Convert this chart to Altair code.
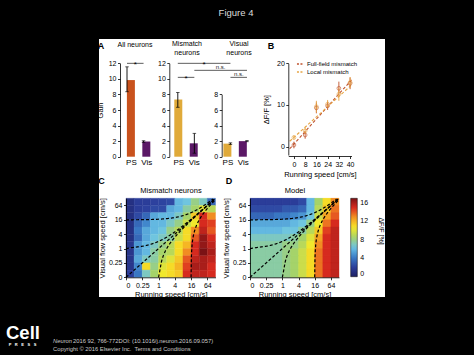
import json
import numpy as np
import pandas as pd
import altair as alt

W, H = 474, 355
FONT = "Liberation Sans"

# ======================= DATA =======================
# Panel A: gain of PS / Vis responses
a_groups = ["All neurons", "Mismatch neurons", "Visual neurons"]
a_conditions = ["PS", "Vis"]
a_gain_ps = [9.85, 7.35, 1.68]
a_gain_vis = [1.95, 1.72, 2.00]
a_lo_ps = [8.35, 6.35, 1.58]
a_hi_ps = [11.55, 8.25, 1.78]
a_lo_vis = [1.85, 0.45, 1.93]
a_hi_vis = [2.05, 3.00, 2.07]
a_ymax = [12, 12, 8]

# significance brackets (group index, condition index)
sig_from_group = [0, 1, 1, 1, 2]
sig_from_cond = [0, 0, 1, 0, 0]
sig_to_group = [0, 2, 2, 1, 2]
sig_to_cond = [1, 0, 1, 1, 1]
sig_level = [12.0, 12.0, 11.1, 10.2, 10.2]
sig_label = ["*", "*", "n.s.", "*", "n.s."]

# Panel B: dF/F vs running speed
b_series = ["Full-field mismatch", "Local mismatch"]
b_speed = [0, 8, 16, 24, 32, 40]
b_full = [0.4, 2.8, 9.3, 9.8, 14.0, 15.2]
b_full_err = [0.8, 0.9, 1.3, 1.0, 1.6, 1.4]
b_local = [2.2, 3.8, 9.6, 10.2, 12.6, 15.4]
b_local_err = [0.5, 0.8, 1.4, 1.0, 1.6, 1.3]
b_fit_x = [-3, 41]
b_fit_full = [-0.5, 16.0]
b_fit_local = [1.3, 14.8]

# Panels C / D: heatmaps (rows top -> bottom, columns left -> right)
hm_tick_labels = ["0", "0.25", "1", "4", "16", "64"]
flow_offsets = [16, 1, 0, -1, -16]   # visual flow = running speed + offset
c_grid = [
    [1.2, 2.0, 2.0, 2.2, 2.3, 2.5, 6.0, 6.5, 8.0, 7.0, 3.5],
    [1.2, 2.0, 2.2, 2.5, 2.5, 5.5, 6.0, 7.5, 8.5, 10.0, 9.0],
    [1.2, 2.5, 3.5, 5.5, 6.0, 6.0, 7.0, 8.5, 11.5, 15.0, 13.0],
    [1.2, 3.5, 4.5, 6.0, 6.0, 7.0, 8.0, 9.5, 10.5, 15.0, 14.5],
    [1.2, 4.0, 5.5, 6.0, 6.5, 8.0, 9.0, 11.0, 13.0, 15.5, 14.0],
    [1.2, 3.5, 5.5, 6.5, 7.0, 7.5, 9.5, 11.0, 14.0, 16.5, 15.0],
    [1.5, 5.0, 6.0, 7.0, 8.0, 9.0, 11.0, 12.0, 15.0, 16.5, 15.5],
    [1.5, 5.0, 6.0, 7.5, 8.5, 9.0, 11.0, 13.0, 15.0, 17.0, 16.0],
    [1.5, 5.5, 7.0, 7.5, 9.0, 10.0, 11.5, 14.0, 15.5, 16.0, 15.5],
    [1.5, 4.5, 11.0, 8.0, 10.0, 11.0, 12.0, 14.5, 16.0, 16.0, 15.0],
    [2.0, 4.0, 7.0, 8.5, 10.5, 11.0, 11.5, 15.0, 15.5, 15.5, 15.0],
]
d_grid = [
    [2.0, 2.0, 2.0, 2.0, 2.0, 2.0, 2.5, 6.0, 8.5, 11.0, 13.0],
    [2.5, 2.5, 2.5, 2.5, 3.0, 3.0, 3.5, 6.0, 9.0, 11.5, 13.5],
    [3.5, 3.5, 3.5, 4.0, 4.0, 4.5, 5.0, 6.5, 9.5, 12.5, 14.0],
    [5.5, 5.5, 5.5, 5.5, 5.5, 6.0, 6.5, 8.0, 10.5, 13.5, 15.0],
    [6.0, 6.0, 6.0, 6.0, 6.5, 6.5, 7.5, 9.0, 11.5, 14.5, 15.5],
    [7.0, 7.0, 7.0, 7.0, 7.0, 7.5, 8.5, 10.0, 12.5, 15.0, 15.5],
    [7.5, 7.5, 7.5, 7.5, 8.0, 8.0, 9.0, 10.5, 13.0, 15.0, 15.5],
    [7.5, 7.5, 7.5, 7.5, 8.0, 8.5, 9.5, 11.0, 13.5, 15.0, 15.5],
    [7.5, 7.5, 7.5, 7.5, 8.0, 8.5, 9.5, 11.0, 13.5, 15.0, 15.5],
    [7.5, 7.5, 7.5, 7.5, 8.0, 8.5, 9.5, 11.0, 13.5, 15.0, 15.5],
    [7.5, 7.5, 7.5, 7.5, 8.0, 8.5, 9.5, 11.0, 13.5, 15.0, 15.5],
]
colorbar_ticks = [0, 4, 8, 12, 16]

# ======================= LAYOUT / STYLE =======================
A_X0, A_U = 127.0, 16.55
A_GROUP_POS = [0.0, 3.07, 6.25]
A_AXIS_X = [120.0, 169.3, 221.7]
A_Y0, A_PXU = 156.7, 7.78
B_XR, B_YR = [288.3, 351.5], [155.0, 63.3]
HM_XR = {"C": [126.0, 215.5], "D": [250.0, 339.0]}
HM_YR = [277.3, 198.3]

BAR_COLORS = ["#c9521d", "#5b1866", "#e0aa3a", "#5b1866", "#e0aa3a", "#5b1866"]
B_COLORS = ["#c0532e", "#e6a545"]
JET = ["#1d1f63", "#2c3f9c", "#3b7fc8", "#6cc4e6", "#a5d36a",
       "#f6e928", "#f49a22", "#dc2b20", "#7b1215"]

AX = dict(labelFont=FONT, titleFont=FONT, labelColor="black", titleColor="black",
          domainColor="black", tickColor="black", labelFontSize=7, titleFontSize=7.5,
          titleFontWeight="normal", grid=False, zindex=1, domainWidth=0.8,
          tickWidth=0.8, tickSize=2.5, labelPadding=1.5)

ONE = pd.DataFrame({"k": [0]})


def lin(dom, rng):
    return alt.Scale(type="linear", domain=dom, range=rng, nice=False, zero=False)


def txt(s, x, y, size=7.0, color="black", weight="normal", align="center",
        baseline="middle", angle=0, italic=False):
    kw = dict(text=s, fontSize=size, fill=color, fontWeight=weight, align=align,
              baseline=baseline, font=FONT)
    if angle:
        kw["angle"] = angle
    if italic:
        kw["fontStyle"] = "italic"
    return alt.Chart(ONE).mark_text(**kw).encode(x=alt.value(x), y=alt.value(y))


layers = []

# background panel
layers.append(alt.Chart(ONE).mark_rect(color="white").encode(
    x=alt.value(99), x2=alt.value(385), y=alt.value(39), y2=alt.value(297)))

# ======================= PANEL A =======================
gains = [a_gain_ps, a_gain_vis]
los = [a_lo_ps, a_lo_vis]
his = [a_hi_ps, a_hi_vis]
rows = []
for g in range(3):
    for c in range(2):
        rows.append(dict(g=g, cond=a_conditions[c], key=f"{g}-{c}",
                         pos=A_GROUP_POS[g] + c, gain=gains[c][g],
                         lo=los[c][g], hi=his[c][g], base=0.0))
a_df = pd.DataFrame(rows)
bar_keys = list(a_df["key"])

xs_a = lin([-1, 8], [A_X0 - A_U, A_X0 + 8 * A_U])
ys_a12 = lin([0, 12], [A_Y0, A_Y0 - 12 * A_PXU])

for g in range(3):
    ymax = a_ymax[g]
    ps_pos = A_GROUP_POS[g]
    yaxis = alt.Axis(orient="left", offset=-A_AXIS_X[g],
                     values=list(range(0, ymax + 1, 2)),
                     title=("Gain" if g == 0 else None), titlePadding=4,
                     **AX)
    xaxis = alt.Axis(orient="bottom", offset=A_Y0 - H, values=[ps_pos, ps_pos + 1],
                     labelExpr=f"datum.value < {ps_pos + 0.5} ? 'PS' : 'Vis'",
                     domain=False, ticks=False, labelFontSize=8, labelPadding=2,
                     labelFont=FONT, labelColor="black", title=None, grid=False, zindex=1)
    layers.append(
        alt.Chart(a_df).transform_filter(f"datum.g == {g}")
        .mark_bar(orient="vertical", size=8)
        .encode(
            x=alt.X("pos:Q", scale=xs_a, axis=xaxis),
            y=alt.Y("gain:Q", scale=lin([0, ymax], [A_Y0, A_Y0 - ymax * A_PXU]), axis=yaxis),
            y2="base:Q",
            color=alt.Color("key:N", scale=alt.Scale(domain=bar_keys, range=BAR_COLORS), legend=None),
        )
    )

layers.append(
    alt.Chart(a_df).mark_rule(color="black", strokeWidth=0.9).encode(
        x=alt.X("pos:Q", scale=xs_a, axis=None),
        y=alt.Y("lo:Q", scale=ys_a12, axis=None), y2="hi:Q"))
layers.append(
    alt.Chart(a_df).transform_fold(["lo", "hi"], as_=["which", "val"])
    .mark_tick(orient="horizontal", size=3.5, thickness=0.9, color="black").encode(
        x=alt.X("pos:Q", scale=xs_a, axis=None),
        y=alt.Y("val:Q", scale=ys_a12, axis=None)))

sig_rows = []
for i in range(len(sig_label)):
    x1 = A_GROUP_POS[sig_from_group[i]] + sig_from_cond[i]
    x2 = A_GROUP_POS[sig_to_group[i]] + sig_to_cond[i]
    sig_rows.append(dict(x1=x1, x2=x2, xm=(x1 + x2) / 2, level=sig_level[i], label=sig_label[i]))
sig_df = pd.DataFrame(sig_rows)
layers.append(alt.Chart(sig_df).mark_rule(color="#333333", strokeWidth=0.8).encode(
    x=alt.X("x1:Q", scale=xs_a, axis=None), x2="x2:Q",
    y=alt.Y("level:Q", scale=ys_a12, axis=None)))
layers.append(alt.Chart(sig_df).transform_filter("datum.label == '*'")
              .mark_text(font=FONT, fontSize=8, baseline="alphabetic", dy=3.5, fill="black")
              .encode(x=alt.X("xm:Q", scale=xs_a, axis=None),
                      y=alt.Y("level:Q", scale=ys_a12, axis=None), text="label:N"))
layers.append(alt.Chart(sig_df).transform_filter("datum.label != '*'")
              .mark_text(font=FONT, fontSize=6, baseline="alphabetic", dy=-1.2, fill="#222222")
              .encode(x=alt.X("xm:Q", scale=xs_a, axis=None),
                      y=alt.Y("level:Q", scale=ys_a12, axis=None), text="label:N"))

layers.append(txt("A", 101, 45.5, size=9, weight="bold"))
layers.append(txt(a_groups[0], 135, 45, size=7))
layers.append(txt("Mismatch", 187, 44.3, size=7))
layers.append(txt("neurons", 187, 52.7, size=7))
layers.append(txt("Visual", 239, 44.3, size=7))
layers.append(txt("neurons", 239, 52.7, size=7))

# ======================= PANEL B =======================
b_vals = [b_full, b_local]
b_errs = [b_full_err, b_local_err]
pts = []
for s in range(2):
    for i, sp in enumerate(b_speed):
        v, e = b_vals[s][i], b_errs[s][i]
        pts.append(dict(series=b_series[s], speed=sp, val=v, lo=v - e, hi=v + e))
b_pts = pd.DataFrame(pts)
fits = []
for s, fy in enumerate([b_fit_full, b_fit_local]):
    for j in range(2):
        fits.append(dict(series=b_series[s], x=b_fit_x[j], y=fy[j]))
b_fit = pd.DataFrame(fits)

xs_b = lin([-4, 41], B_XR)
ys_b = lin([-2, 20], B_YR)
cs_b = alt.Scale(domain=b_series, range=B_COLORS)

b_legend = alt.Legend(orient="none", legendX=296, legendY=59.5, title=None,
                      symbolType="stroke", symbolDash=[2, 1.5], symbolStrokeWidth=1.3,
                      symbolSize=50, labelFontSize=6, labelFont=FONT, labelColor="black",
                      rowPadding=0, labelOffset=2, zindex=1)
layers.append(alt.Chart(b_fit).mark_line(strokeDash=[3, 2], strokeWidth=1.1).encode(
    x=alt.X("x:Q", scale=xs_b, axis=None),
    y=alt.Y("y:Q", scale=ys_b, axis=None),
    color=alt.Color("series:N", scale=cs_b, legend=b_legend)))
layers.append(alt.Chart(b_pts).mark_rule(strokeWidth=0.9).encode(
    x=alt.X("speed:Q", scale=xs_b, axis=None),
    y=alt.Y("lo:Q", scale=ys_b, axis=None), y2="hi:Q",
    color=alt.Color("series:N", scale=cs_b, legend=None)))
layers.append(alt.Chart(b_pts).mark_point(shape="circle", filled=False, size=14, strokeWidth=0.9).encode(
    x=alt.X("speed:Q", scale=xs_b,
            axis=alt.Axis(orient="bottom", offset=B_YR[0] + 1 - H, values=b_speed,
                          title="Running speed [cm/s]", titlePadding=3, **AX)),
    y=alt.Y("val:Q", scale=ys_b,
            axis=alt.Axis(orient="left", offset=-B_XR[0], values=[0, 10, 20],
                          title="ΔF/F [%]", titlePadding=6, **AX)),
    color=alt.Color("series:N", scale=cs_b, legend=None)))
layers.append(txt("B", 271, 45.5, size=9, weight="bold"))

# ======================= PANELS C / D =======================
def idx_to_val(i):
    return i / 8 if i <= 2 else 2 ** (i - 4)


def val_to_idx(v):
    return 8 * v if v <= 0.25 else 4 + np.log2(v)


curve_rows = []
for ci, off in enumerate(flow_offsets):
    t = val_to_idx(max(0.0, -off))
    order = 0
    while t <= 10.9:
        vy = idx_to_val(t) + off
        if vy >= 0:
            yi = val_to_idx(vy)
            if yi > 10.9:
                break
            curve_rows.append(dict(curve=ci, order=order, xi=t, yi=yi))
            order += 1
        t += 0.01
curves = pd.DataFrame(curve_rows)

cscale = alt.Scale(type="linear", domain=[0, 17], range=JET, interpolate="rgb", nice=False, zero=False)
tick_expr = json.dumps(hm_tick_labels) + "[round(datum.value / 2)]"
ys_hm = lin([0, 11], HM_YR)

for name, grid in [("C", c_grid), ("D", d_grid)]:
    cells = []
    for r, row in enumerate(grid):
        yi = len(grid) - 1 - r
        for xi, v in enumerate(row):
            cells.append(dict(xi=xi, xi2=xi + 1, yi=yi, yi2=yi + 1, val=v))
    cdf = pd.DataFrame(cells)
    xs = lin([0, 11], HM_XR[name])
    if name == "D":
        # colour bar: a plain filled copy of the heatmap carries the gradient legend
        leg = alt.Legend(type="gradient", orient="none", legendX=350.7, legendY=198.3,
                         direction="vertical", gradientLength=78.4, gradientThickness=6.6,
                         values=colorbar_ticks, title=None, labelFontSize=7, labelFont=FONT,
                         labelColor="black", gradientStrokeColor="black",
                         gradientStrokeWidth=0.5, labelOffset=3, zindex=1)
        layers.append(alt.Chart(cdf).mark_rect().encode(
            x=alt.X("xi:Q", scale=xs, axis=None), x2="xi2:Q",
            y=alt.Y("yi:Q", scale=ys_hm, axis=None), y2="yi2:Q",
            color=alt.Color("val:Q", scale=cscale, legend=leg)))
    layers.append(alt.Chart(cdf).mark_rect(strokeWidth=0.4).encode(
        x=alt.X("xi:Q", scale=xs,
                axis=alt.Axis(orient="bottom", offset=HM_YR[0] - H, values=[0, 2, 4, 6, 8, 10],
                              labelExpr=tick_expr, title="Running speed [cm/s]", titlePadding=2, **AX)),
        x2="xi2:Q",
        y=alt.Y("yi:Q", scale=ys_hm,
                axis=alt.Axis(orient="left", offset=-HM_XR[name][0], values=[0, 2, 4, 6, 8, 10],
                              labelExpr=tick_expr, title="Visual flow speed [cm/s]", titlePadding=2, **AX)),
        y2="yi2:Q",
        color=alt.Color("val:Q", scale=cscale, legend=None),
        stroke=alt.Stroke("val:Q", scale=cscale, legend=None),
    ))
    layers.append(alt.Chart(curves).mark_line(color="black", strokeDash=[3, 2], strokeWidth=1.2).encode(
        x=alt.X("xi:Q", scale=xs, axis=None),
        y=alt.Y("yi:Q", scale=ys_hm, axis=None),
        detail="curve:N", order="order:Q"))

layers.append(txt("C", 101.5, 181, size=9, weight="bold"))
layers.append(txt("Mismatch neurons", 171, 190.7, size=7.5))
layers.append(txt("D", 229, 181, size=9, weight="bold"))
layers.append(txt("Model", 295, 190.7, size=7.5))
layers.append(txt("ΔF/F [%]", 380.5, 231, size=7, angle=90))

# ======================= FRAME TEXT =======================
layers.append(txt("Figure 4", 236, 13, size=9.5, color="#dddddd"))
layers.append(txt("Cell", 6, 338.5, size=18.5, color="white", weight="bold", align="left",
                  baseline="alphabetic"))
press = pd.DataFrame({"i": list(range(5)), "ch": list("PRESS")})
layers.append(alt.Chart(press).mark_text(font=FONT, fontSize=4, fontWeight="bold", fill="white").encode(
    x=alt.X("i:Q", scale=lin([0, 4], [10, 35]), axis=None), y=alt.value(344.5), text="ch:N"))
layers.append(txt("Neuron", 53, 341, size=5.8, color="#cccccc", align="left", italic=True))
layers.append(txt("2016 92, 766-772DOI: (10.1016/j.neuron.2016.09.057)", 73, 341, size=5.8,
                  color="#cccccc", align="left"))
layers.append(txt("Copyright © 2016 Elsevier Inc.", 53, 349, size=5.8, color="#cccccc", align="left"))
layers.append(txt("Terms and Conditions", 134.5, 349, size=5.8, color="#cccccc", align="left"))

chart = (
    alt.layer(*layers)
    .resolve_scale(x="independent", y="independent", color="independent", stroke="independent")
    .properties(width=W, height=H, padding=0,
                autosize=alt.AutoSizeParams(type="none"), background="black")
    .configure_view(stroke=None)
)
chart.save("out.html", embed_options={"renderer": "svg", "actions": False})
